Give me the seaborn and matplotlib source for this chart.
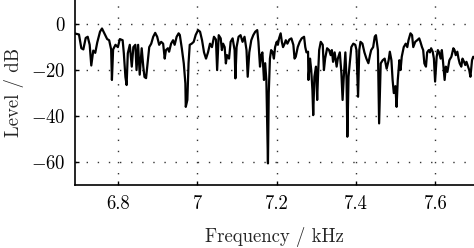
import matplotlib
matplotlib.use("Agg")
import matplotlib.pyplot as plt
import seaborn as sns
import pandas as pd

# ---- data ----
freq_a = [6.690, 6.702, 6.708, 6.713, 6.719, 6.724, 6.729, 6.733, 6.738, 6.743,
          6.748, 6.755, 6.760, 6.766, 6.773, 6.778, 6.783, 6.785, 6.788, 6.794,
          6.800, 6.805, 6.812, 6.815, 6.819, 6.822, 6.825, 6.830, 6.835, 6.839,
          6.844, 6.847, 6.851, 6.855, 6.860]
level_a = [-4, -4.5, -10.5, -11, -6, -5.5, -9, -18, -11.5, -12.5,
           -8, -3.3, -1.9, -4, -6.5, -7, -11, -24.3, -11, -9,
           -10, -6.5, -7, -12.7, -23, -26.5, -12.7, -9, -18.5, -10,
           -9, -20, -9, -22, -10.5]

freq_b = [6.864, 6.867, 6.871, 6.874, 6.879, 6.884, 6.889, 6.894, 6.899, 6.904,
          6.909, 6.914, 6.918, 6.921, 6.926, 6.929, 6.934, 6.939, 6.943, 6.948,
          6.953, 6.956, 6.961, 6.966, 6.970, 6.971, 6.975, 6.978, 6.981, 6.986,
          6.991, 6.996, 7.002, 7.007, 7.012, 7.017, 7.022, 7.027]
level_b = [-18.5, -23, -23.5, -18.5, -10, -8.5, -5.5, -3.8, -5.5, -9,
           -7.7, -8.5, -15, -11.3, -10.5, -12, -8.5, -7, -9, -5.5,
           -4, -4.7, -10.5, -17.1, -25.8, -36, -33, -17, -9, -8.5,
           -7.7, -4.7, -2.6, -3.3, -7, -12.3, -15, -12.3]

freq_c = [7.032, 7.037, 7.042, 7.047, 7.050, 7.054, 7.059, 7.062, 7.065, 7.069,
          7.072, 7.075, 7.080, 7.084, 7.089, 7.094, 7.096, 7.099, 7.104, 7.109,
          7.114, 7.119, 7.124, 7.127, 7.131, 7.136, 7.141, 7.146, 7.151, 7.154,
          7.158, 7.161, 7.164, 7.168, 7.171, 7.174, 7.178, 7.180, 7.183, 7.186,
          7.190, 7.193]
level_c = [-8.5, -10, -5.5, -6.7, -20, -4.8, -6.2, -11.3, -8.5, -10,
           -17.1, -13.5, -15, -7.7, -6.2, -11.3, -23.6, -10, -5.5, -4.8,
           -7.7, -5.5, -11.3, -22.9, -12.3, -7, -4.8, -3.3, -2.6, -7.7,
           -18.5, -13.5, -12.3, -24.3, -17, -24.3, -60.6, -30, -15, -11.3,
           -12.3, -15]

freq_d = [7.196, 7.200, 7.203, 7.206, 7.210, 7.213, 7.216, 7.220, 7.223, 7.227,
          7.232, 7.237, 7.242, 7.245, 7.248, 7.253, 7.258, 7.263, 7.269, 7.272,
          7.275, 7.279, 7.280, 7.284, 7.287, 7.290, 7.292, 7.295, 7.299, 7.302,
          7.304, 7.307, 7.311, 7.316, 7.319, 7.322, 7.327, 7.332, 7.336, 7.339,
          7.342, 7.346, 7.351, 7.354, 7.359]
level_d = [-10, -7.7, -9, -6.2, -4, -7.7, -10, -8.5, -7, -8.5,
           -6.7, -6.2, -9, -15, -14.2, -10, -7.7, -6.2, -5.5, -10,
           -12.3, -12, -24.3, -15, -20, -28.7, -39.6, -22.9, -18.5, -33,
           -22.9, -11.3, -7.7, -9, -20, -15, -10.5, -11.3, -13.5, -11.3,
           -16.4, -12.3, -18.5, -15, -12.3]

freq_e = [7.363, 7.366, 7.369, 7.373, 7.376, 7.378, 7.381, 7.384, 7.388, 7.393,
          7.398, 7.401, 7.405, 7.408, 7.411, 7.416, 7.421, 7.426, 7.431, 7.435,
          7.438, 7.443, 7.447, 7.450, 7.453, 7.455, 7.458, 7.462, 7.467, 7.472,
          7.477, 7.482, 7.485, 7.489, 7.492, 7.495, 7.499, 7.502, 7.505, 7.509,
          7.512, 7.515, 7.520, 7.525]
level_e = [-21.4, -33, -22.9, -12.3, -24.3, -49, -22.9, -17.1, -10, -8.5,
           -9, -11.3, -31.6, -11.3, -7.7, -8.5, -12.3, -15, -17, -13.5,
           -11.3, -10, -5.5, -4.8, -8.5, -11.3, -43.2, -17.1, -15.7, -15,
           -19.4, -15.7, -12, -15.7, -24.3, -30, -27, -36, -24.3, -15.7,
           -20, -14.2, -10, -8.5]

freq_f = [7.529, 7.532, 7.537, 7.541, 7.544, 7.549, 7.554, 7.559, 7.562, 7.566,
          7.569, 7.572, 7.576, 7.579, 7.583, 7.586, 7.589, 7.593, 7.596, 7.599,
          7.603, 7.606, 7.609, 7.613, 7.616, 7.619, 7.623, 7.626, 7.630, 7.635,
          7.640, 7.645, 7.648, 7.651, 7.655, 7.658, 7.661, 7.665, 7.668, 7.672,
          7.675, 7.678, 7.682, 7.685, 7.688, 7.692, 7.695, 7.700]
level_f = [-10, -7, -4, -4.8, -10, -7.7, -7, -6.2, -7.7, -10,
           -11.3, -17.1, -18.5, -12.3, -11.3, -12.3, -10.5, -12, -15, -25,
           -14.2, -11.3, -12.3, -15, -11.3, -16.4, -24.3, -18.5, -20.8, -15.7,
           -14.2, -10.5, -11.3, -13.5, -12, -15, -17.1, -18.5, -15, -16.4,
           -17.8, -16.4, -18.5, -20, -22.9, -15.7, -14.2, -15]

x_ticks = [6.8, 7.0, 7.2, 7.4, 7.6]
x_tick_labels = ["6.8", "7", "7.2", "7.4", "7.6"]
y_ticks = [0, -20, -40, -60]

frequency = freq_a + freq_b + freq_c + freq_d + freq_e + freq_f
level = level_a + level_b + level_c + level_d + level_e + level_f
df = pd.DataFrame({"Frequency": frequency, "Level": level})

# ---- style ----
sns.set_style("ticks")
plt.rcParams.update({
    "font.family": ["cmr10", "DejaVu Serif"],
    "mathtext.fontset": "cm",
    "axes.formatter.use_mathtext": True,
    "font.size": 13.5,
    "axes.unicode_minus": True,
})

fig = plt.figure(figsize=(4.74, 2.48), dpi=100)
ax = fig.add_axes([75 / 474, 63 / 248, 399 / 474, 185 / 248])

sns.lineplot(data=df, x="Frequency", y="Level", ax=ax, color="black",
             linewidth=1.6, estimator=None, sort=False)

ax.set_xlim(6.692, 7.697)
ax.set_ylim(-70, 10.5)
ax.set_xticks(x_ticks)
ax.set_xticklabels(x_tick_labels)
ax.set_yticks(y_ticks)
ax.set_yticklabels([r"$-%d$" % abs(v) if v < 0 else r"$%d$" % v for v in y_ticks])

ax.grid(True, color="0.2", linestyle=(0, (1, 7)), linewidth=1.0)
for s in ["top", "right"]:
    ax.spines[s].set_visible(False)
for s in ["left", "bottom"]:
    ax.spines[s].set_linewidth(1.2)
    ax.spines[s].set_color("black")
ax.tick_params(direction="in", length=3, width=1, colors="black", labelsize=13.5)
ax.tick_params(axis="x", pad=7)
ax.tick_params(axis="y", pad=7)

ax.set_xlabel("Frequency / kHz", fontsize=13.5, labelpad=10)
ax.set_ylabel("Level / dB", fontsize=13.5, labelpad=5)

fig.savefig("out.png", dpi=100)
